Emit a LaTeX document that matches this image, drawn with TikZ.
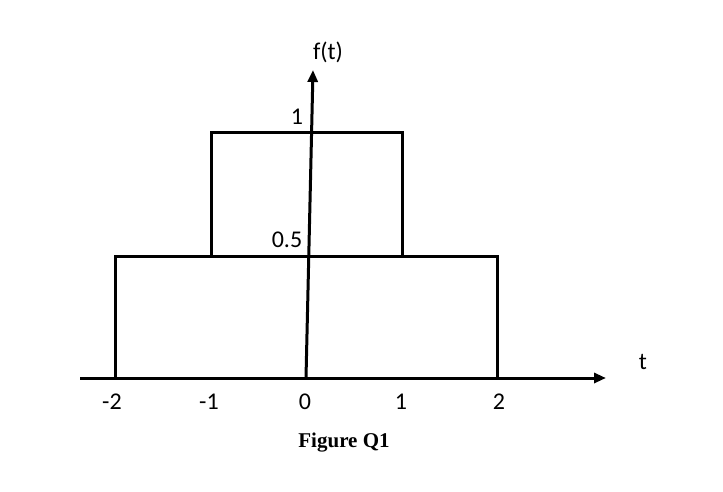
\documentclass[tikz,border=0pt]{standalone}
\usepackage{fontspec}
\setmainfont{Carlito}
\newfontfamily\capfont{Liberation Serif}
\usetikzlibrary{arrows.meta}
\begin{document}
\begin{tikzpicture}[x=1pt,y=-1pt,
  ln/.style={line width=3pt},
  ax/.style={line width=3pt,-{Triangle[length=12pt,width=10pt]}},
  lbl/.style={font=\fontsize{24}{26}\selectfont}]
\useasboundingbox (0,0) rectangle (723,491);
\coordinate (o) at (306,378);
\coordinate (xs) at (80,378);
\coordinate (xe) at (606,378);
\coordinate (ye) at (313,70);
\draw[ln] (115,378) -- (115,256) -- (497,256) -- (497,378);
\draw[ln] (211,256) -- (211,132) -- (402,132) -- (402,256);
\draw[ax] (xs) -- (xe);
\draw[ax] (o) -- (ye);
\node[lbl] (ft) at (328,52) {f(t)};
\node[lbl] (t) at (643,362) {t};
\node[lbl] (one) at (297,117) {1};
\node[lbl] (half) at (287,240) {0.5};
\node[lbl] (m2) at (112,402) {-2};
\node[lbl] (m1) at (209,402) {-1};
\node[lbl] (z) at (305,402) {0};
\node[lbl] (p1) at (401,402) {1};
\node[lbl] (p2) at (499,402) {2};
\node[font=\capfont\bfseries\fontsize{21}{24}\selectfont] (cap) at (344,443) {Figure Q1};
\end{tikzpicture}
\end{document}
